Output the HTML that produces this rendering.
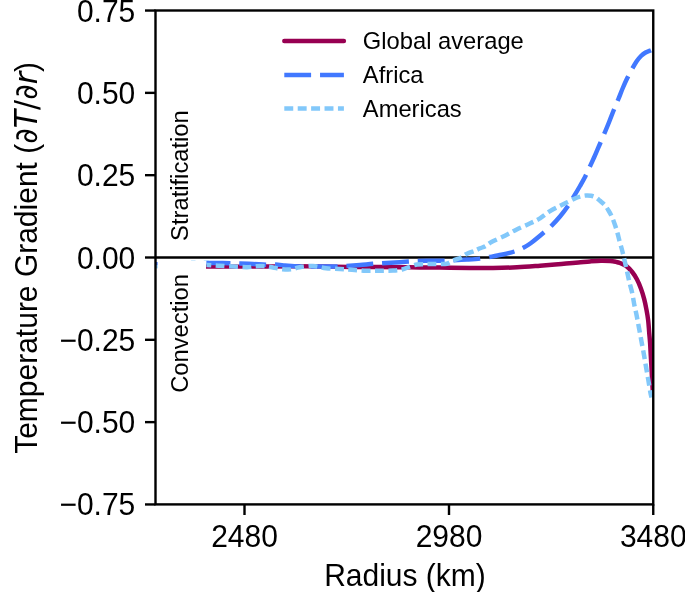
<!DOCTYPE html>
<html><head><meta charset="utf-8"><title>Temperature Gradient</title>
<style>
html,body{margin:0;padding:0;background:#fff;}
svg{display:block;}
text{font-family:"Liberation Sans",Arial,sans-serif;fill:#000;}
.t30 text{font-size:30px;}
.t24 text{font-size:23.75px;}
.m{font-family:"DejaVu Sans",sans-serif;font-style:oblique;}
.mr{font-family:"DejaVu Sans",sans-serif;}
</style></head><body>
<svg width="685" height="592" viewBox="0 0 685 592">
<rect x="0" y="0" width="685" height="592" fill="#fff"/>
<defs><clipPath id="ax"><rect x="155.5" y="10.5" width="497.75" height="493.9"/></clipPath></defs>
<line x1="155.5" x2="653.25" y1="257.5" y2="257.5" stroke="#000" stroke-width="2.4"/>
<g clip-path="url(#ax)" fill="none">
<path d="M206.00,266.60 C209.17,266.60 217.67,266.60 225.00,266.60 C232.33,266.60 241.67,266.63 250.00,266.60 C258.33,266.57 266.67,266.45 275.00,266.40 C283.33,266.35 291.67,266.28 300.00,266.30 C308.33,266.32 316.67,266.40 325.00,266.50 C333.33,266.60 340.83,266.82 350.00,266.90 C359.17,266.98 370.00,266.93 380.00,267.00 C390.00,267.07 400.00,267.20 410.00,267.30 C420.00,267.40 430.00,267.48 440.00,267.60 C450.00,267.72 461.17,267.93 470.00,268.00 C478.83,268.07 485.17,268.12 493.00,268.00 C500.83,267.88 509.17,267.68 517.00,267.30 C524.83,266.92 533.67,266.17 540.00,265.70 C546.33,265.23 550.67,264.87 555.00,264.50 C559.33,264.13 562.10,263.83 566.00,263.50 C569.90,263.17 574.40,262.85 578.40,262.50 C582.40,262.15 586.23,261.70 590.00,261.40 C593.77,261.10 597.63,260.77 601.00,260.70 C604.37,260.63 607.70,260.80 610.20,261.00 C612.70,261.20 614.37,261.57 616.00,261.90 C617.63,262.23 618.32,262.33 620.00,263.00 C621.68,263.67 624.07,264.40 626.10,265.90 C628.13,267.40 630.40,269.77 632.20,272.00 C634.00,274.23 635.45,276.55 636.90,279.30 C638.35,282.05 639.68,285.20 640.90,288.50 C642.12,291.80 643.27,295.55 644.20,299.10 C645.13,302.65 645.83,306.25 646.50,309.80 C647.17,313.35 647.75,316.60 648.20,320.40 C648.65,324.20 648.88,328.80 649.20,332.60 C649.52,336.40 649.83,339.30 650.10,343.20 C650.37,347.10 650.55,351.53 650.80,356.00 C651.05,360.47 651.35,365.50 651.60,370.00 C651.85,374.50 652.10,379.50 652.30,383.00 C652.50,386.50 652.72,389.67 652.80,391.00" stroke="#970052" stroke-width="4.47" stroke-linecap="butt" stroke-linejoin="round"/>
<path d="M206.40,263.00 C208.33,263.00 214.07,262.97 218.00,263.00 C221.93,263.03 226.33,263.12 230.00,263.20 C233.67,263.28 236.17,263.37 240.00,263.50 C243.83,263.63 248.67,263.80 253.00,264.00 C257.33,264.20 262.28,264.60 266.00,264.70 C269.72,264.80 272.13,264.48 275.30,264.60 C278.47,264.72 281.80,265.13 285.00,265.40 C288.20,265.67 290.17,266.02 294.50,266.20 C298.83,266.38 306.25,266.43 311.00,266.50 C315.75,266.57 318.83,266.60 323.00,266.60 C327.17,266.60 332.10,266.60 336.00,266.50 C339.90,266.40 342.40,266.25 346.40,266.00 C350.40,265.75 355.62,265.37 360.00,265.00 C364.38,264.63 369.03,264.08 372.70,263.80 C376.37,263.52 378.28,263.52 382.00,263.30 C385.72,263.08 390.62,262.78 395.00,262.50 C399.38,262.22 404.53,261.87 408.30,261.60 C412.07,261.33 413.98,261.03 417.60,260.90 C421.22,260.77 425.62,260.83 430.00,260.80 C434.38,260.77 439.93,260.78 443.90,260.70 C447.87,260.62 449.95,260.48 453.80,260.30 C457.65,260.12 462.63,259.88 467.00,259.60 C471.37,259.32 476.27,259.03 480.00,258.60 C483.73,258.17 487.83,257.27 489.40,257.00" stroke="#4178ff" stroke-width="4.47" stroke-dasharray="26.8 8.94" stroke-dashoffset="2.8" stroke-linecap="butt"/>
<path d="M651.00,50.20 C650.10,50.58 647.27,51.53 645.60,52.50 C643.93,53.47 642.52,54.50 641.00,56.00 C639.48,57.50 638.00,59.30 636.50,61.50 C635.00,63.70 633.53,66.45 632.00,69.20 C630.47,71.95 628.83,74.87 627.30,78.00 C625.77,81.13 624.32,84.42 622.80,88.00 C621.28,91.58 619.67,95.92 618.20,99.50 C616.73,103.08 615.45,105.92 614.00,109.50 C612.55,113.08 611.00,117.25 609.50,121.00 C608.00,124.75 606.57,128.25 605.00,132.00 C603.43,135.75 601.77,139.62 600.10,143.50 C598.43,147.38 596.68,151.50 595.00,155.30 C593.32,159.10 591.60,162.82 590.00,166.30 C588.40,169.78 587.07,172.92 585.40,176.20 C583.73,179.48 581.90,182.67 580.00,186.00 C578.10,189.33 576.07,192.78 574.00,196.20 C571.93,199.62 569.93,203.12 567.60,206.50 C565.27,209.88 562.70,213.28 560.00,216.50 C557.30,219.72 554.73,222.58 551.40,225.80 C548.07,229.02 543.40,232.93 540.00,235.80 C536.60,238.67 533.70,241.05 531.00,243.00 C528.30,244.95 526.57,246.08 523.80,247.50 C521.03,248.92 518.13,250.28 514.40,251.50 C510.67,252.72 505.57,253.88 501.40,254.80 C497.23,255.72 491.40,256.63 489.40,257.00" stroke="#4178ff" stroke-width="4.47" stroke-dasharray="26.8 8.94" stroke-dashoffset="0" stroke-linecap="butt"/>
<path d="M206.40,265.10 C207.28,265.12 209.43,265.08 211.70,265.20 C213.97,265.32 216.28,265.57 220.00,265.80 C223.72,266.03 229.50,266.37 234.00,266.60 C238.50,266.83 243.33,267.25 247.00,267.20 C250.67,267.15 253.00,266.47 256.00,266.30 C259.00,266.13 262.17,266.00 265.00,266.20 C267.83,266.40 270.12,267.00 273.00,267.50 C275.88,268.00 279.30,268.88 282.30,269.20 C285.30,269.52 288.13,269.73 291.00,269.40 C293.87,269.07 295.83,267.77 299.50,267.20 C303.17,266.63 308.58,265.82 313.00,266.00 C317.42,266.18 321.50,267.80 326.00,268.30 C330.50,268.80 335.67,268.75 340.00,269.00 C344.33,269.25 347.67,269.52 352.00,269.80 C356.33,270.08 361.33,270.55 366.00,270.70 C370.67,270.85 375.50,270.73 380.00,270.70 C384.50,270.67 389.33,270.70 393.00,270.50 C396.67,270.30 399.17,270.15 402.00,269.50 C404.83,268.85 407.50,267.43 410.00,266.60 C412.50,265.77 414.50,264.90 417.00,264.50 C419.50,264.10 422.50,264.28 425.00,264.20 C427.50,264.12 428.67,264.03 432.00,264.00 C435.33,263.97 442.17,264.20 445.00,264.00 C447.83,263.80 447.63,263.40 449.00,262.80 C450.37,262.20 451.13,261.28 453.20,260.40 C455.27,259.52 459.27,258.53 461.40,257.50 C463.53,256.47 463.87,255.27 466.00,254.20 C468.13,253.13 472.83,251.62 474.20,251.10" stroke="#82c8fa" stroke-width="4.47" stroke-dasharray="8.9 4.45" stroke-dashoffset="4.0" stroke-linecap="butt"/>
<path d="M651.50,397.50 C651.30,396.58 650.83,394.92 650.30,392.00 C649.77,389.08 648.98,384.00 648.30,380.00 C647.62,376.00 646.92,372.17 646.20,368.00 C645.48,363.83 644.78,359.42 644.00,355.00 C643.22,350.58 642.33,346.00 641.50,341.50 C640.67,337.00 639.80,332.28 639.00,328.00 C638.20,323.72 637.47,319.60 636.70,315.80 C635.93,312.00 635.15,309.00 634.40,305.20 C633.65,301.40 633.08,297.05 632.20,293.00 C631.32,288.95 630.00,284.70 629.10,280.90 C628.20,277.10 627.52,273.43 626.80,270.20 C626.08,266.97 625.38,264.03 624.80,261.50 C624.22,258.97 623.85,257.25 623.30,255.00 C622.75,252.75 622.13,250.33 621.50,248.00 C620.87,245.67 620.17,243.47 619.50,241.00 C618.83,238.53 618.25,235.87 617.50,233.20 C616.75,230.53 615.92,227.70 615.00,225.00 C614.08,222.30 613.08,219.42 612.00,217.00 C610.92,214.58 609.72,212.50 608.50,210.50 C607.28,208.50 606.12,206.62 604.70,205.00 C603.28,203.38 601.45,202.03 600.00,200.80 C598.55,199.57 597.50,198.43 596.00,197.60 C594.50,196.77 592.67,196.15 591.00,195.80 C589.33,195.45 587.67,195.40 586.00,195.50 C584.33,195.60 582.67,195.98 581.00,196.40 C579.33,196.82 578.02,197.15 576.00,198.00 C573.98,198.85 571.43,200.27 568.90,201.50 C566.37,202.73 563.95,203.78 560.80,205.40 C557.65,207.02 553.47,209.05 550.00,211.20 C546.53,213.35 543.38,216.23 540.00,218.30 C536.62,220.37 533.58,221.75 529.70,223.60 C525.82,225.45 520.83,227.38 516.70,229.40 C512.57,231.42 509.03,233.63 504.90,235.70 C500.77,237.77 495.17,240.05 491.90,241.80 C488.63,243.55 487.28,245.12 485.30,246.20 C483.32,247.28 481.85,247.48 480.00,248.30 C478.15,249.12 475.17,250.63 474.20,251.10" stroke="#82c8fa" stroke-width="4.47" stroke-dasharray="8.94 4.47" stroke-dashoffset="1.3" stroke-linecap="butt"/>
<rect x="156" y="262" width="1.6" height="3" fill="#4178ff"/><rect x="156" y="265" width="1.6" height="3.4" fill="#82c8fa"/>
<path d="M191.1,260.5H195.5M203.8,260.5H208.8" stroke="#82c8fa" stroke-width="0.8" stroke-opacity="0.45"/>
</g>
<rect x="155.5" y="10.5" width="497.75" height="493.9" fill="none" stroke="#000" stroke-width="2.4" stroke-linejoin="miter"/>
<g stroke="#000" stroke-width="2.4"><line x1="145" x2="155.5" y1="10.55" y2="10.55"/><line x1="145" x2="155.5" y1="92.87" y2="92.87"/><line x1="145" x2="155.5" y1="175.18" y2="175.18"/><line x1="145" x2="155.5" y1="257.50" y2="257.50"/><line x1="145" x2="155.5" y1="339.82" y2="339.82"/><line x1="145" x2="155.5" y1="422.13" y2="422.13"/><line x1="145" x2="155.5" y1="504.45" y2="504.45"/><line x1="244.5" x2="244.5" y1="504.4" y2="515"/><line x1="449.0" x2="449.0" y1="504.4" y2="515"/><line x1="653.25" x2="653.25" y1="504.4" y2="515"/></g>
<g class="t30"><text transform="translate(135.3,21.55) scale(1,1.05)" text-anchor="end">0.75</text><text transform="translate(135.3,103.87) scale(1,1.05)" text-anchor="end">0.50</text><text transform="translate(135.3,186.18) scale(1,1.05)" text-anchor="end">0.25</text><text transform="translate(135.3,268.50) scale(1,1.05)" text-anchor="end">0.00</text><text transform="translate(135.3,350.82) scale(1,1.05)" text-anchor="end">−0.25</text><text transform="translate(135.3,433.13) scale(1,1.05)" text-anchor="end">−0.50</text><text transform="translate(135.3,515.45) scale(1,1.05)" text-anchor="end">−0.75</text><text transform="translate(244.5,546.6) scale(1,1.05)" text-anchor="middle">2480</text><text transform="translate(449.0,546.6) scale(1,1.05)" text-anchor="middle">2980</text><text transform="translate(653.25,546.6) scale(1,1.05)" text-anchor="middle">3480</text><text transform="translate(405,585.8) scale(1,1.05)" text-anchor="middle">Radius (km)</text><text transform="translate(36.5,257.9) rotate(-90) scale(1,1.05)" text-anchor="middle">Temperature Gradient (<tspan class="m">∂T</tspan><tspan class="mr">/</tspan><tspan class="m">∂r</tspan>)</text></g>
<line x1="284.3" x2="343.9" y1="41.0" y2="41.0" stroke="#970052" stroke-width="4.47" stroke-linecap="round"/>
<line x1="284.3" x2="343.9" y1="75.0" y2="75.0" stroke="#4178ff" stroke-width="4.47" stroke-dasharray="26.8 8.94"/>
<line x1="284.3" x2="343.9" y1="108.55" y2="108.55" stroke="#82c8fa" stroke-width="4.47" stroke-dasharray="8.94 4.47"/>
<g class="t24"><text transform="translate(188.4,240.9) rotate(-90) scale(1,1.045)">Stratification</text><text transform="translate(188.4,392.8) rotate(-90) scale(1,1.045)">Convection</text><text transform="translate(362.8,49.3) scale(1,1.03)">Global average</text><text transform="translate(362.8,83.1) scale(1,1.03)">Africa</text><text transform="translate(362.8,116.9) scale(1,1.03)">Americas</text></g>
</svg>
</body></html>
